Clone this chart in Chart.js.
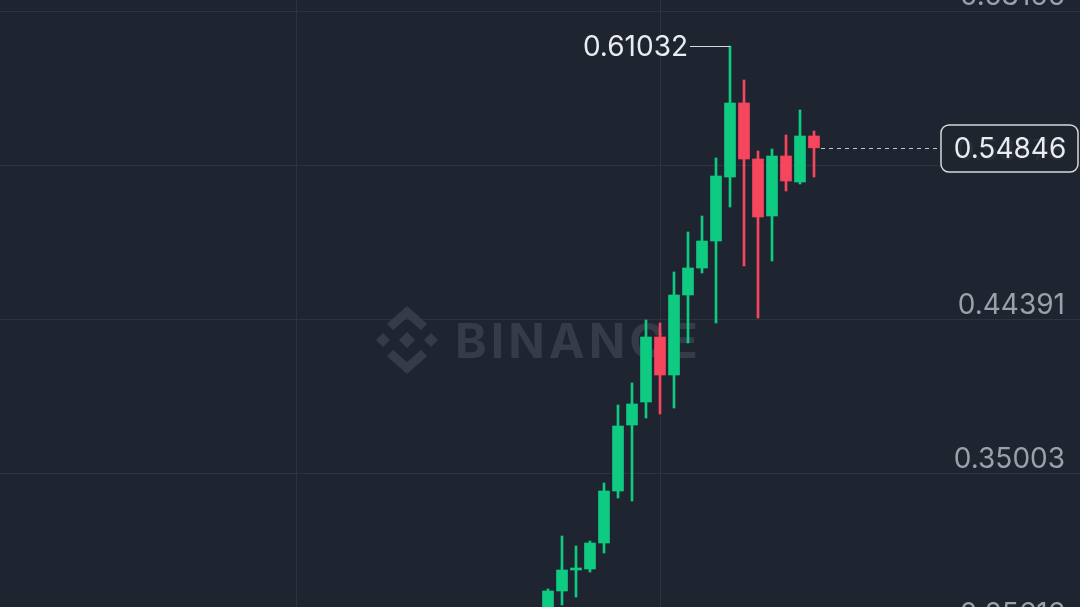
<!DOCTYPE html>
<html>
<head>
<meta charset="utf-8">
<script src="https://cdn.jsdelivr.net/npm/chart.js@4.4.1/dist/chart.umd.min.js"></script>
<style>
  html, body { margin: 0; padding: 0; width: 1080px; height: 607px; overflow: hidden; background: #1e2530; }
  #wrap { position: absolute; left: 0; top: -60px; width: 1080px; height: 760px; }
</style>
</head>
<body>
<div id="wrap"><canvas id="chart" width="1080" height="760"></canvas></div>
<script>
// candle index (x) and OHLC values
const candleIndex = [0, 1, 2, 3, 4, 5, 6, 7, 8, 9, 10, 11, 12, 13, 14, 15, 16, 17, 18, 19];
const openPrices  = [0.26243, 0.27886, 0.29163, 0.29224, 0.30806, 0.33969, 0.37984, 0.39383, 0.43337, 0.41025,
                     0.45892, 0.47534, 0.49177, 0.53070, 0.57571, 0.54165, 0.50697, 0.54347, 0.52766, 0.55564];
const highPrices  = [0.28007, 0.31231, 0.30623, 0.30927, 0.34456, 0.39200, 0.40539, 0.44371, 0.44188, 0.47291,
                     0.49724, 0.50697, 0.54226, 0.61032, 0.58970, 0.54651, 0.54773, 0.55625, 0.57145, 0.55868];
const lowPrices   = [0.25818, 0.27034, 0.27521, 0.29042, 0.30197, 0.33543, 0.33361, 0.38410, 0.38653, 0.39018,
                     0.42972, 0.47230, 0.44188, 0.51245, 0.47656, 0.44493, 0.47960, 0.52218, 0.52644, 0.53070];
const closePrices = [0.27886, 0.29163, 0.29285, 0.30806, 0.33969, 0.37923, 0.39261, 0.43337, 0.41025, 0.45892,
                     0.47534, 0.49177, 0.53131, 0.57571, 0.54165, 0.50637, 0.54347, 0.52826, 0.55564, 0.54846];

const yTickValues = [0.25616, 0.35003, 0.44391, 0.53778, 0.63166];
const yTickLabels = ['0.25616', '0.35003', '0.44391', '0.53778', '0.63166'];
const xGridIndex = [-18, 8];

const peakLabel = '0.61032';
const lastPrice = 0.54846;

const UP = '#0ecb81';
const DOWN = '#f6465d';
const GRID = '#2c3440';

const colors = candleIndex.map((_, i) => closePrices[i] >= openPrices[i] ? UP : DOWN);

const overlay = {
    id: 'overlay',
    beforeDatasetsDraw(chart) {
        // watermark
        const c = chart.ctx;
        c.save();
        c.fillStyle = '#353c48';
        c.strokeStyle = '#353c48';
        const cx = 407, cy = 400;
        c.beginPath();
        c.moveTo(cx, cy - 8); c.lineTo(cx + 8, cy); c.lineTo(cx, cy + 8); c.lineTo(cx - 8, cy); c.closePath();
        c.fill();
        [-24, 24].forEach(dx => {
            c.beginPath();
            c.moveTo(cx + dx, cy - 7); c.lineTo(cx + dx + 7, cy); c.lineTo(cx + dx, cy + 7); c.lineTo(cx + dx - 7, cy); c.closePath();
            c.fill();
        });
        c.lineWidth = 9;
        c.lineJoin = 'miter';
        [-1, 1].forEach(s => {
            c.beginPath();
            c.moveTo(cx - 17, cy + s * 13);
            c.lineTo(cx, cy + s * 28);
            c.lineTo(cx + 17, cy + s * 13);
            c.stroke();
        });
        c.font = 'bold 48px Inter';
        c.textBaseline = 'alphabetic';
        c.textAlign = 'left';
        if ('letterSpacing' in c) c.letterSpacing = '4px';
        c.fillText('BINANCE', 455, 418);
        c.restore();
    },
    afterDatasetsDraw(chart) {
        const c = chart.ctx;
        const x = chart.scales.x, y = chart.scales.y;
        c.save();
        // peak label
        const peakIdx = highPrices.indexOf(Math.max(...highPrices));
        const px = x.getPixelForValue(candleIndex[peakIdx]);
        const py = Math.round(y.getPixelForValue(highPrices[peakIdx])) + 0.5;
        c.strokeStyle = '#d5d8dc';
        c.lineWidth = 1;
        c.beginPath();
        c.moveTo(px - 40, py); c.lineTo(px, py);
        c.stroke();
        c.fillStyle = '#eaecef';
        c.font = '28px Inter';
        c.textAlign = 'right';
        c.textBaseline = 'middle';
        c.fillText(peakLabel, px - 42, py + 1);

        // last price line and box
        const last = candleIndex.length - 1;
        const lx = x.getPixelForValue(candleIndex[last]) + 7;
        const ly = Math.round(y.getPixelForValue(lastPrice)) + 0.5;
        c.setLineDash([4, 4]);
        c.strokeStyle = '#c4c8cd';
        c.beginPath();
        c.moveTo(lx, ly); c.lineTo(941, ly);
        c.stroke();
        c.setLineDash([]);
        c.fillStyle = 'rgba(30,37,48,0.92)';
        c.strokeStyle = '#d5d8dc';
        c.lineWidth = 1.5;
        c.beginPath();
        c.roundRect(941, ly - 23.5, 137, 47, 8);
        c.fill();
        c.stroke();
        c.fillStyle = '#eaecef';
        c.textAlign = 'center';
        c.fillText(lastPrice.toFixed(5), 1010, ly + 1);
        c.restore();
    }
};

new Chart(document.getElementById('chart'), {
    type: 'bar',
    data: {
        datasets: [
            {
                label: 'wick',
                data: candleIndex.map((k, i) => ({ x: k, y: [lowPrices[i], highPrices[i]] })),
                backgroundColor: colors,
                barThickness: 2,
                grouped: false,
                order: 2
            },
            {
                label: 'body',
                data: candleIndex.map((k, i) => ({ x: k, y: [openPrices[i], closePrices[i]] })),
                backgroundColor: colors,
                barThickness: 11,
                grouped: false,
                order: 1
            }
        ]
    },
    options: {
        responsive: false,
        animation: false,
        devicePixelRatio: 1,
        layout: { padding: 0, autoPadding: false },
        plugins: { legend: { display: false }, tooltip: { enabled: false } },
        scales: {
            x: {
                type: 'linear',
                offset: false,
                min: -548 / 14,
                max: -548 / 14 + 1080 / 14,
                grid: { color: GRID, drawTicks: false, offset: false },
                border: { display: false },
                ticks: { display: false },
                afterBuildTicks: s => { s.ticks = xGridIndex.map(v => ({ value: v })); }
            },
            y: {
                position: 'right',
                min: 0.21255,
                max: 0.67487,
                grid: { color: GRID, drawTicks: false },
                border: { display: false },
                ticks: {
                    mirror: true,
                    padding: -15,
                    labelOffset: -14,
                    color: '#9aa1ab',
                    font: { family: 'Inter', size: 28 },
                    callback: (v, i) => yTickLabels[i]
                },
                afterBuildTicks: s => { s.ticks = yTickValues.map(v => ({ value: v })); },
                afterFit: s => {
                    s.width = 0;
                    s.paddingTop = 0;
                    s.paddingBottom = 0;
                }
            }
        }
    },
    plugins: [overlay]
});
</script>
</body>
</html>
